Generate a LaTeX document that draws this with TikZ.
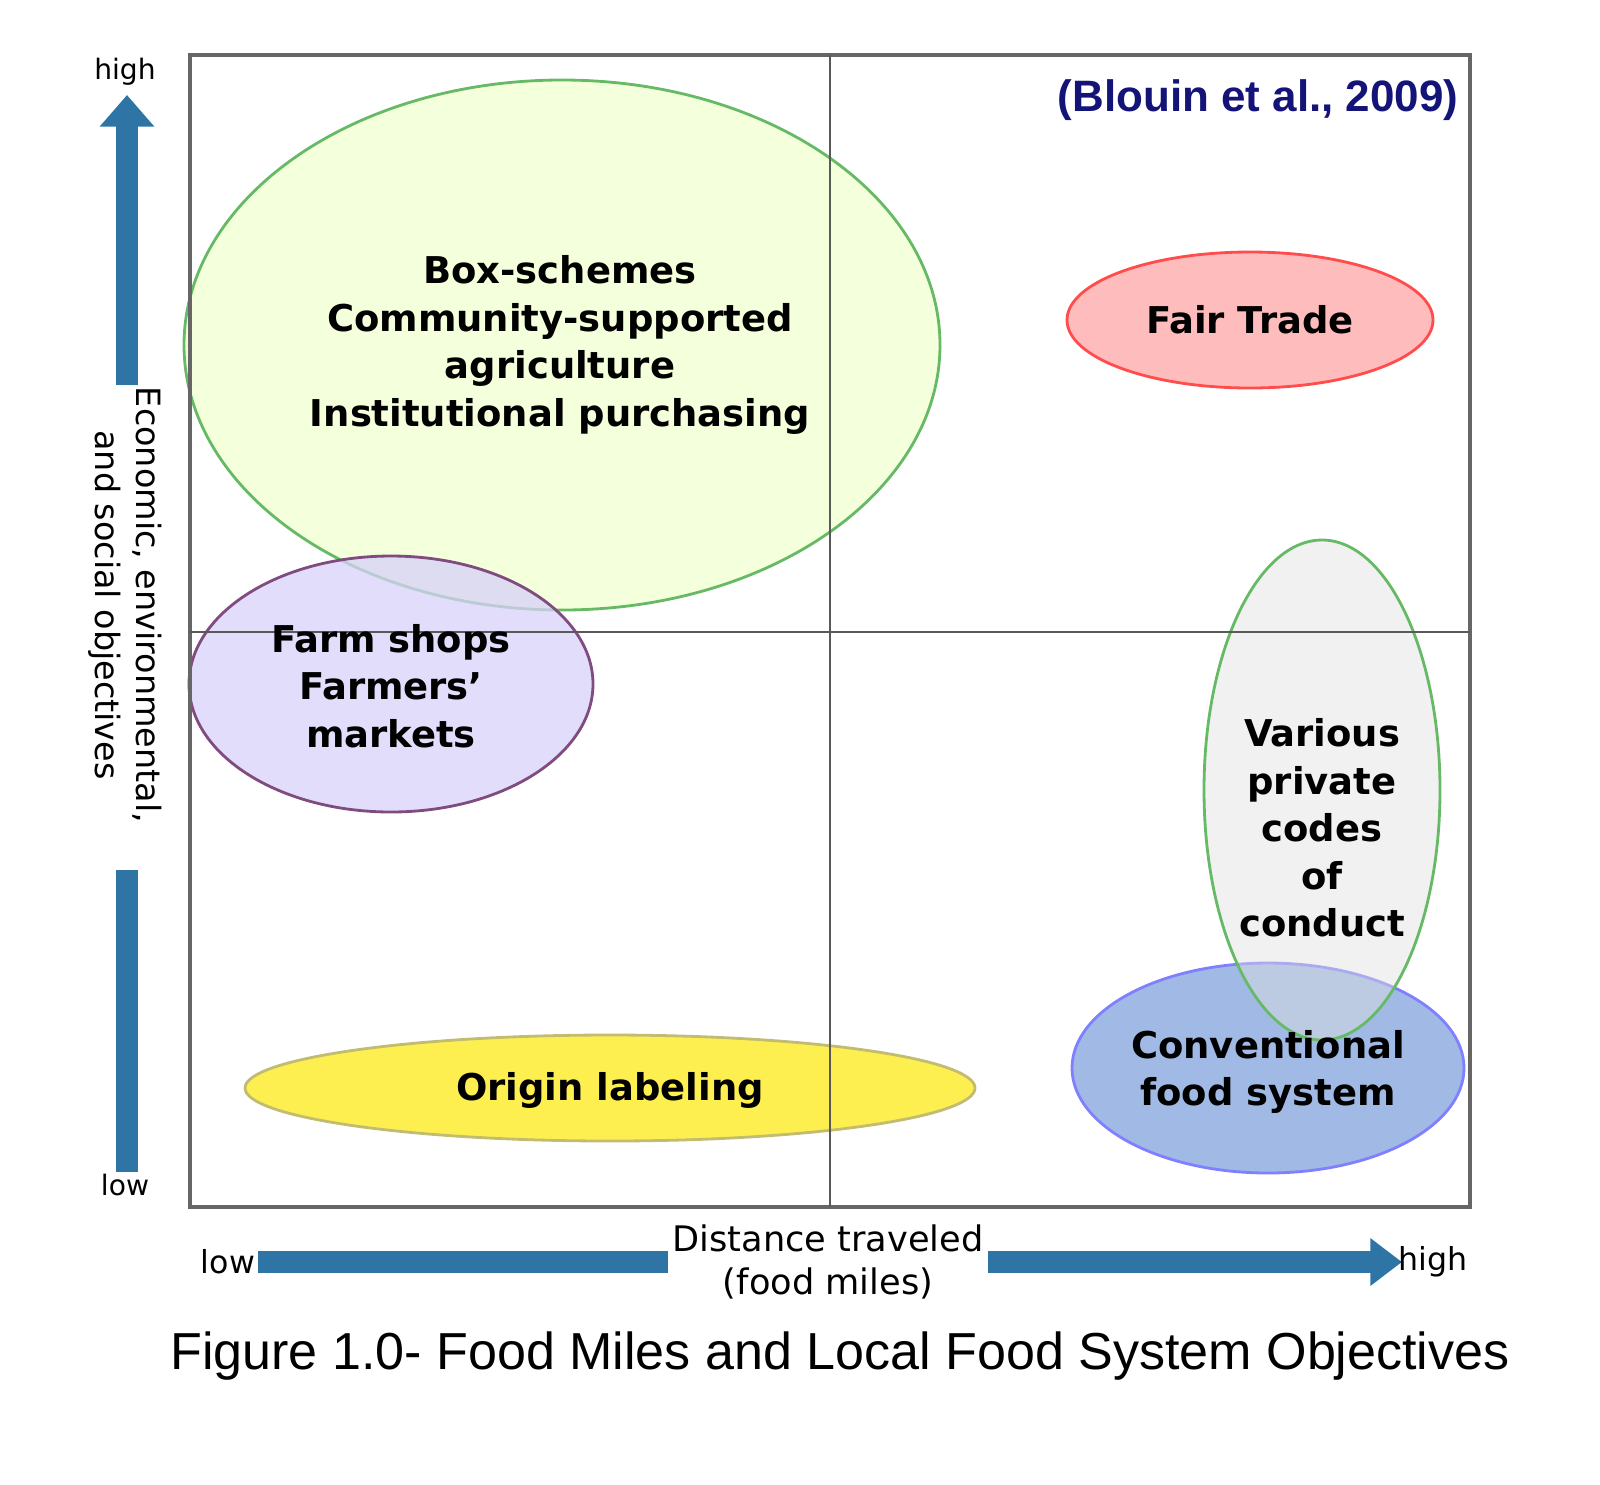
\documentclass[tikz,border=0pt]{standalone}
\usepackage{fontspec}
\setmainfont{DejaVu Sans}
\newfontfamily\capfont{Liberation Sans}
\usetikzlibrary{arrows.meta}
\definecolor{axblue}{RGB}{46,117,165}
\definecolor{navy}{RGB}{20,20,120}
\tikzset{
  blob/.style={draw, line width=0.8pt},
  lab/.style={font=\bfseries\fontsize{10.5}{13.5}\selectfont, align=center},
  axlab/.style={font=\fontsize{8}{10}\selectfont, align=center},
  axline/.style={axblue, line width=6pt},
}
\begin{document}
\begin{tikzpicture}[x=0.01cm,y=-0.01cm]
\useasboundingbox (0,0) rectangle (1600,1484);
% ellipses
\path[blob, draw=green!55!black!60, fill=green!30!yellow!20, fill opacity=0.7] (562,345) ellipse [x radius=378, y radius=265];
\path[blob, draw=violet!40!gray, fill=violet!25!blue!18, fill opacity=0.75] (391,684) ellipse [x radius=202, y radius=128];
\path[blob, draw=red!70, fill=red!40!pink!60, fill opacity=0.8] (1250,320) ellipse [x radius=183, y radius=68];
\path[blob, draw=blue!50, fill=cyan!50!blue!45, fill opacity=0.85] (1268,1068) ellipse [x radius=196, y radius=105];
\path[blob, draw=green!55!black!60, fill=gray!25, fill opacity=0.45] (1322,790) ellipse [x radius=118, y radius=250];
\path[blob, draw=yellow!60!black!70, fill=yellow!90!orange!80, fill opacity=0.85] (610,1088) ellipse [x radius=365, y radius=53];
% frame
\draw[gray!80!black, line width=1pt] (190,55) rectangle (1470,1207);
\draw[gray!70!black, line width=0.8pt] (830,55) -- (830,1207);
\draw[gray!70!black, line width=0.8pt] (190,632) -- (1470,632);
% labels
\node[lab] (a) at (560,345) {Box-schemes\\Community-supported\\agriculture\\Institutional purchasing};
\node[lab] (b) at (391,686) {Farm shops\\Farmers'\\markets};
\node[lab] (c) at (1250,320) {Fair Trade};
\node[lab] (d) at (1322,828) {Various\\private\\codes\\of\\conduct};
\node[lab] (e) at (1268,1072) {Conventional\\food system};
\node[lab] (f) at (610,1090) {Origin labeling};
\node[font=\capfont\bfseries\fontsize{12.5}{15}\selectfont, text=navy] (cit) at (1258,100) {(Blouin et al., 2009)};
% y axis
\coordinate (y0) at (127,1172);
\coordinate (y1) at (127,870);
\coordinate (y2) at (127,385);
\coordinate (y3) at (127,95);
\draw[axline] (y0) -- (y1);
\draw[axline, -{Triangle[length=9pt,width=15pt]}] (y2) -- (y3);
\node[axlab] (yh) at (125,72) {high};
\node[axlab] (yl) at (125,1185) {low};
\node[axlab, font=\fontsize{9.5}{11.5}\selectfont, rotate=-90] (yt) at (125,605) {Economic, environmental,\\and social objectives};
% x axis
\coordinate (x0) at (258,1262);
\coordinate (x1) at (668,1262);
\coordinate (x2) at (988,1262);
\coordinate (x3) at (1402,1262);
\draw[axline] (x0) -- (x1);
\draw[axline, -{Triangle[length=9pt,width=13pt]}] (x2) -- (x3);
\node[axlab, font=\fontsize{9}{11}\selectfont] (xl) at (228,1262) {low};
\node[axlab, font=\fontsize{9}{11}\selectfont] (xh) at (1433,1262) {high};
\node[axlab, font=\fontsize{10}{12}\selectfont] (xt) at (828,1262) {Distance traveled\\(food miles)};
% caption
\node[font=\capfont\fontsize{14.8}{17}\selectfont] (cap) at (840,1356) {Figure 1.0- Food Miles and Local Food System Objectives};
\end{tikzpicture}
\end{document}
